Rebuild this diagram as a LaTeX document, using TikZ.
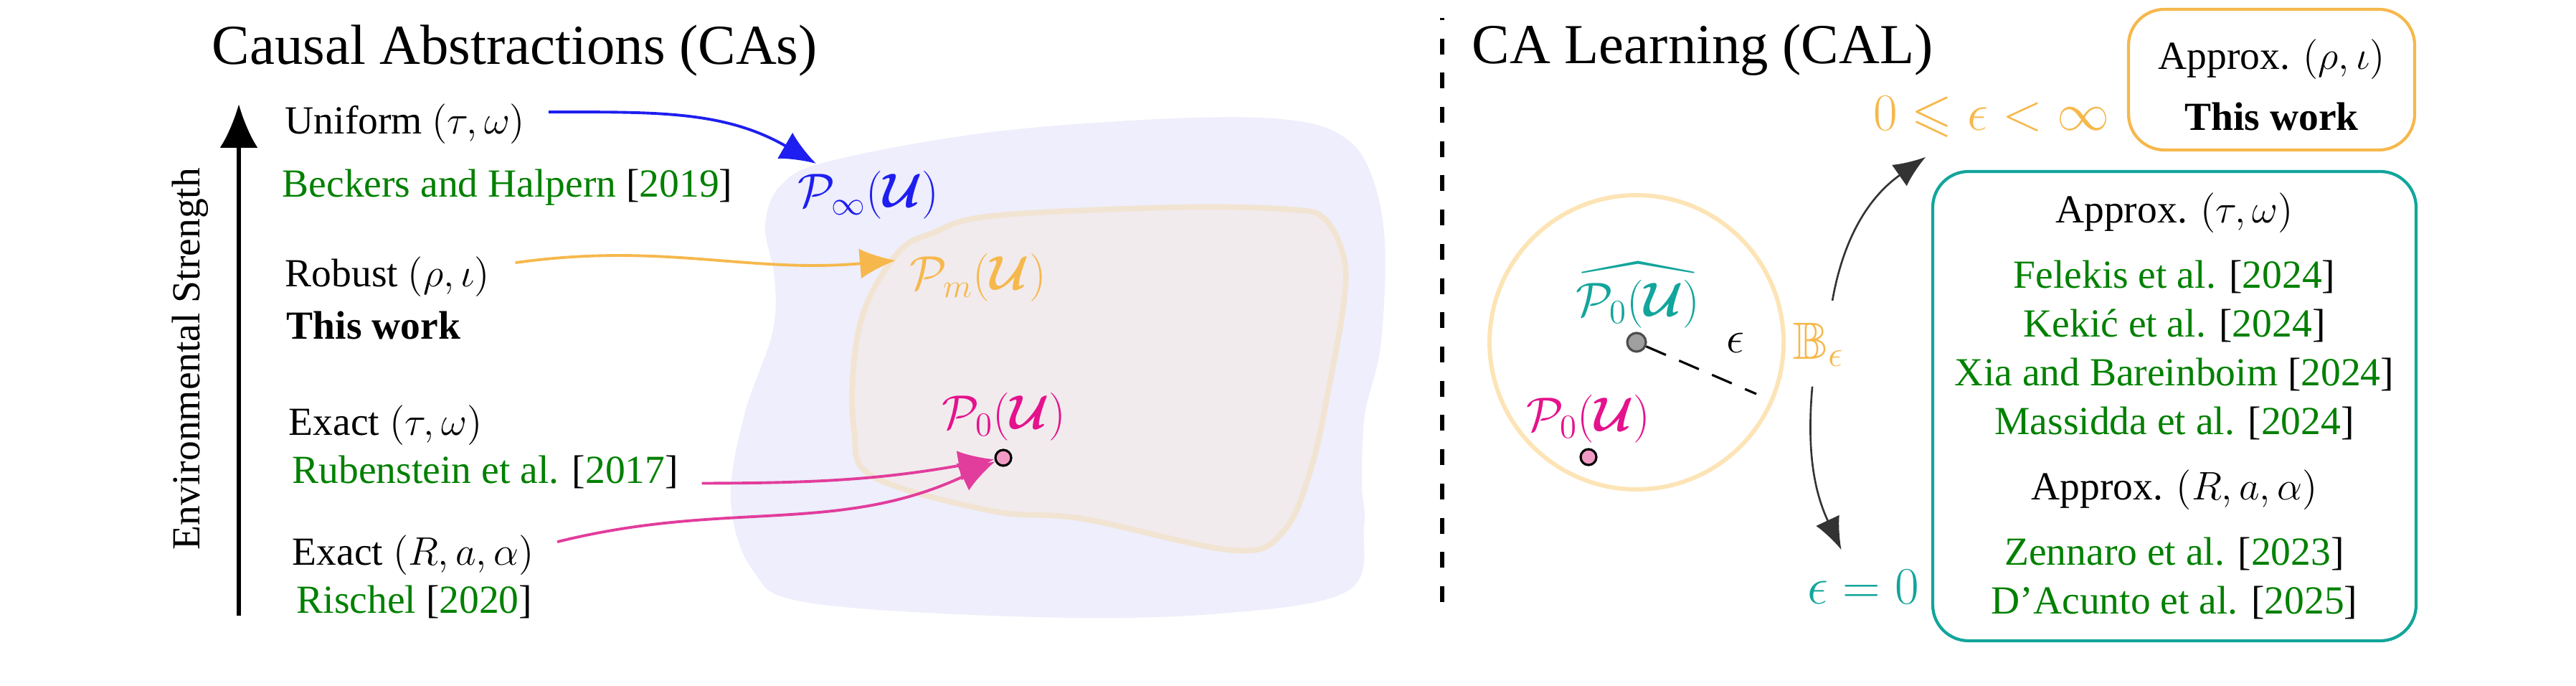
\RequirePackage{fix-cm}
\documentclass[tikz,border=0pt]{standalone}
\usepackage{amssymb}
\usepackage{amsmath}
\usepackage{bm}
\usepackage{fontspec}
\newfontfamily\timesfont{Liberation Serif}
\usepackage{tikz}
\usetikzlibrary{arrows.meta}
\usetikzlibrary{positioning}

\definecolor{citegreen}{RGB}{0,128,0}
\definecolor{setblue}{RGB}{30,30,240}
\definecolor{setorange}{RGB}{246,184,76}
\definecolor{setpink}{RGB}{228,18,140}
\definecolor{arrowpink}{RGB}{226,60,156}
\definecolor{setteal}{RGB}{18,165,155}
\definecolor{lavender}{RGB}{238,238,252}
\definecolor{innerfill}{RGB}{241,235,238}
\definecolor{innerline}{RGB}{242,228,210}
\definecolor{ballline}{RGB}{253,228,182}
\definecolor{pinkdot}{RGB}{240,154,196}

\newcommand{\bodyfont}{\timesfont\fontsize{15.8}{19.4}\selectfont}
\newcommand{\Pset}[1]{\mathcal{P}_{#1}(\bm{\mathcal{U}})}
\newcommand{\citeitem}[2]{\textcolor{citegreen}{#1} [\textcolor{citegreen}{#2}]}

\begin{document}
\begin{tikzpicture}[
    item/.style={font=\bodyfont, inner sep=0pt, anchor=base west},
    heading/.style={font=\timesfont\fontsize{22.4}{26}\selectfont, inner sep=0pt, anchor=base west},
    setlabel/.style={font=\fontsize{19}{23}\selectfont, inner sep=0pt, anchor=base west},
    mathlabel/.style={font=\fontsize{20.8}{24}\selectfont, inner sep=0pt},
    dot/.style={circle, draw=black, line width=0.9pt, inner sep=0pt, minimum size=0.22cm},
    setarrow/.style={-{Latex[length=0.5cm, width=0.42cm]}, line width=1.1pt},
    axis/.style={-{Latex[length=0.61cm, width=0.53cm]}, line width=1.7pt},
    limarrow/.style={-{Latex[length=0.45cm, width=0.36cm]}, line width=0.75pt, black!80},
    refbox/.style={rectangle, rounded corners=0.5cm, line width=1.2pt, align=center, inner sep=0pt}
    ]
    \useasboundingbox (0,0) rectangle (35.92,-9.56);

    % Sets of distributions
    \fill[lavender] plot[smooth cycle, tension=0.6] coordinates {(10.89,-2.58) (11.59,-2.24) (13.83,-1.84) (16.38,-1.65) (17.97,-1.67) (18.74,-1.91) (19.12,-2.43) (19.31,-3.39) (19.25,-4.83) (19.03,-5.78) (18.99,-6.74) (19.02,-7.33) (18.80,-8.23) (17.02,-8.55) (14.46,-8.60) (11.28,-8.40) (10.50,-7.95) (10.19,-6.98) (10.38,-5.78) (10.77,-4.64) (10.80,-3.87) (10.67,-3.15)};
    \filldraw[fill=innerfill, draw=innerline, line width=2.2pt] plot[smooth cycle, tension=0.6] coordinates {(12.55,-3.49) (13.00,-3.25) (13.83,-3.01) (16.38,-2.89) (18.00,-2.92) (18.48,-3.06) (18.74,-3.60) (18.74,-4.20) (18.55,-5.30) (18.29,-6.50) (17.90,-7.40) (17.21,-7.67) (15.10,-7.23) (13.83,-7.12) (12.17,-6.64) (11.91,-6.00) (11.91,-5.00) (12.10,-4.20)};

    % Titles
    \node[heading] (catitle) at (2.95,-0.90) {Causal Abstractions (CAs)};
    \node[heading] (caltitle) at (20.52,-0.89) {CA Learning (CAL)};

    % Environmental strength axis
    \coordinate (axis-bottom) at (3.33,-8.58);
    \coordinate (axis-top) at (3.33,-1.45);
    \draw[axis] (axis-bottom) -- (axis-top);
    \node[font=\bodyfont, rotate=90, anchor=base, inner sep=0pt] (strength) at (2.78,-5.0) {Environmental Strength};

    \node[item] (uniform) at (3.97,-1.87) {Uniform $(\tau,\omega)$};
    \node[item] (beckers) at (3.93,-2.75) {\citeitem{Beckers and Halpern}{2019}};
    \node[item] (robust) at (3.97,-4.00) {Robust $(\rho,\iota)$};
    \node[item] (thiswork) at (3.99,-4.73) {\textbf{This work}};
    \node[item] (exacttw) at (4.02,-6.06) {Exact $(\tau,\omega)$};
    \node[item] (rubenstein) at (4.07,-6.73) {\citeitem{Rubenstein et al.}{2017}};
    \node[item] (exactra) at (4.07,-7.87) {Exact $(R,a,\alpha)$};
    \node[item] (rischel) at (4.13,-8.54) {\citeitem{Rischel}{2020}};

    \node[setlabel, text=setblue] (pinf) at (11.12,-2.89) {$\Pset{\infty}$};
    \node[setlabel, text=setorange] (pm) at (12.68,-4.04) {$\Pset{m}$};
    \node[setlabel, text=setpink] (pzero) at (13.13,-5.97) {$\Pset{0}$};
    \node[dot, fill=pinkdot] (pzerodot) at (13.99,-6.38) {};

    \coordinate (pinf-in) at (11.38,-2.28);
    \coordinate (pm-in) at (12.49,-3.63);

    \draw[setarrow, setblue] ([xshift=0.32cm, yshift=0.17cm]uniform.east) to[out=0, in=150] (pinf-in);
    \draw[setarrow, setorange] ([xshift=0.35cm, yshift=0.2cm]robust.east) to[out=8, in=185] (pm-in);
    \draw[setarrow, arrowpink] ([xshift=0.32cm, yshift=-0.16cm]rubenstein.east) to[out=0, in=190] (pzerodot);
    \draw[setarrow, arrowpink] ([xshift=0.32cm, yshift=0.18cm]exactra.east) to[out=14, in=205] (pzerodot);

    % Separator
    \coordinate (sep-top) at (20.11,-0.25);
    \coordinate (sep-bottom) at (20.11,-8.41);
    \draw[line width=1.9pt, dash pattern=on 0.22cm off 0.257cm, dash phase=0.19cm] (sep-top) -- (sep-bottom);

    % Epsilon ball
    \coordinate (ball) at (22.82,-4.77);
    \draw[ballline, line width=1.7pt] (ball) circle (2.05);
    \node[dot, fill=gray!75, draw=black!70, minimum size=0.26cm] (phatdot) at (ball) {};
    \node[setlabel, text=setteal] (phat) at (21.97,-4.40) {$\widehat{\Pset{0}}$};
    \node[mathlabel, font=\fontsize{18}{22}\selectfont] (eps) at (24.20,-4.78) {$\epsilon$};
    \coordinate (radius-end) at (24.49,-5.49);
    \draw[line width=0.9pt, dash pattern=on 0.3cm off 0.2cm] (phatdot) -- (radius-end);
    \node[mathlabel, text=setorange, anchor=base west] (bball) at (25.0,-5.0) {$\mathbb{B}_\epsilon$};
    \node[setlabel, text=setpink] (ptrue) at (21.28,-6.0) {$\Pset{0}$};
    \node[dot, fill=pinkdot] (ptruedot) at (22.15,-6.37) {};

    % Regimes
    \node[mathlabel, text=setorange, anchor=base east] (range) at (29.42,-1.82) {$0\leqslant\epsilon<\infty$};
    \node[mathlabel, text=setteal, anchor=base west] (zero) at (25.2,-8.41) {$\epsilon=0$};
    \draw[limarrow] ([xshift=0.19cm, yshift=0.3cm]bball.north) to[out=80, in=215] ([xshift=0.74cm, yshift=-0.26cm]range.south west);
    \draw[limarrow] ([xshift=-0.09cm, yshift=-0.27cm]bball.south) to[out=-95, in=115] ([xshift=-0.31cm, yshift=0.27cm]zero.north);

    \node[refbox, draw=setorange, minimum width=3.99cm, minimum height=1.96cm, font=\timesfont\fontsize{15.8}{24.2}\selectfont] (thisbox) at (31.675,-1.11) {\rule{0pt}{0.57cm}Approx. $(\rho,\iota)$\\ \textbf{This work}};
    \node[refbox, draw=setteal, minimum width=6.74cm, minimum height=6.54cm, font=\bodyfont] (litbox) at (30.32,-5.66) {Approx. $(\tau,\omega)$\\[6.3pt]
        \citeitem{Felekis et al.}{2024}\\
        \citeitem{Kekić et al.}{2024}\\
        \citeitem{Xia and Bareinboim}{2024}\\
        \citeitem{Massidda et al.}{2024}\\[6.5pt]
        Approx. $(R,a,\alpha)$\\[6.3pt]
        \citeitem{Zennaro et al.}{2023}\\
        \citeitem{D’Acunto et al.}{2025}};
\end{tikzpicture}
\end{document}
